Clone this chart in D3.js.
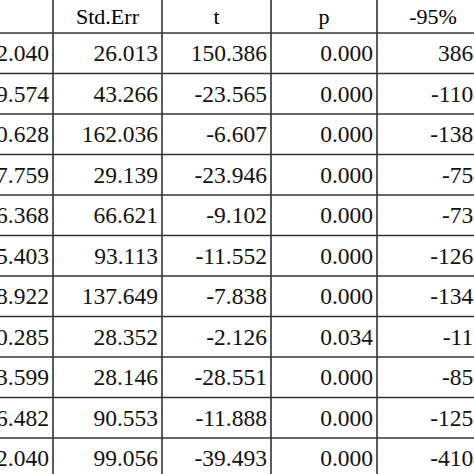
<!DOCTYPE html>
<html><head><meta charset="utf-8">
<script src="https://cdn.jsdelivr.net/npm/d3@7"></script>
<style>body{margin:0;background:#fff;overflow:hidden}</style>
</head><body><svg id="tbl" width="474" height="474"></svg>
<script>
const headers = ["Coef.", "Std.Err", "t", "p", "-95%"]
const coef = ["3912.040", "-1019.574", "-1070.628", "-697.759", "-606.368", "-1075.403", "-1078.922", "-60.285", "-803.599", "-1076.482", "-3912.040"]
const stdErr = ["26.013", "43.266", "162.036", "29.139", "66.621", "93.113", "137.649", "28.352", "28.146", "90.553", "99.056"]
const tVal = ["150.386", "-23.565", "-6.607", "-23.946", "-9.102", "-11.552", "-7.838", "-2.126", "-28.551", "-11.888", "-39.493"]
const pVal = ["0.000", "0.000", "0.000", "0.000", "0.000", "0.000", "0.000", "0.034", "0.000", "0.000", "0.000"]
const lower = ["3861", "-1104", "-1388", "-754", "-736", "-1261", "-1348", "-115", "-858", "-1253", "-4104"]

const cols = [coef, stdErr, tVal, pVal, lower]
const svg = d3.select("#tbl")
// column edges (layout)
const edges = [-60, 53, 162, 271, 377, 489]
const tableTop = 33, pitch = 40.5
const y = d3.scaleBand().domain(d3.range(coef.length)).range([tableTop, tableTop + pitch * coef.length])

svg.append("g").selectAll("text").data(headers).join("text")
  .attr("x", (d, i) => (edges[i] + edges[i + 1]) / 2)
  .attr("y", 24)
  .attr("text-anchor", "middle")
  .attr("font-family", "'Liberation Serif', 'DejaVu Serif', serif")
  .attr("font-size", 22)
  .text((d, i) => i === 0 ? "" : d)

cols.forEach((col, c) => {
  svg.append("g").selectAll("text").data(col).join("text")
    .attr("x", edges[c + 1] - 4)
    .attr("y", (d, i) => y(i) + pitch / 2 + 8)
    .attr("text-anchor", "end")
    .attr("font-family", "'Liberation Serif', 'DejaVu Serif', serif")
    .attr("font-size", 23.5)
    .attr("fill", "#111")
    .text(d => d)
})

const lines = svg.append("g").attr("stroke", "#333").attr("stroke-width", 1.6)
d3.range(coef.length + 1).forEach(i => {
  lines.append("line").attr("x1", 0).attr("x2", 474)
    .attr("y1", tableTop + pitch * i).attr("y2", tableTop + pitch * i)
})
edges.slice(1, 5).forEach(x => {
  lines.append("line").attr("x1", x).attr("x2", x).attr("y1", 0).attr("y2", 474)
})
</script></body></html>
